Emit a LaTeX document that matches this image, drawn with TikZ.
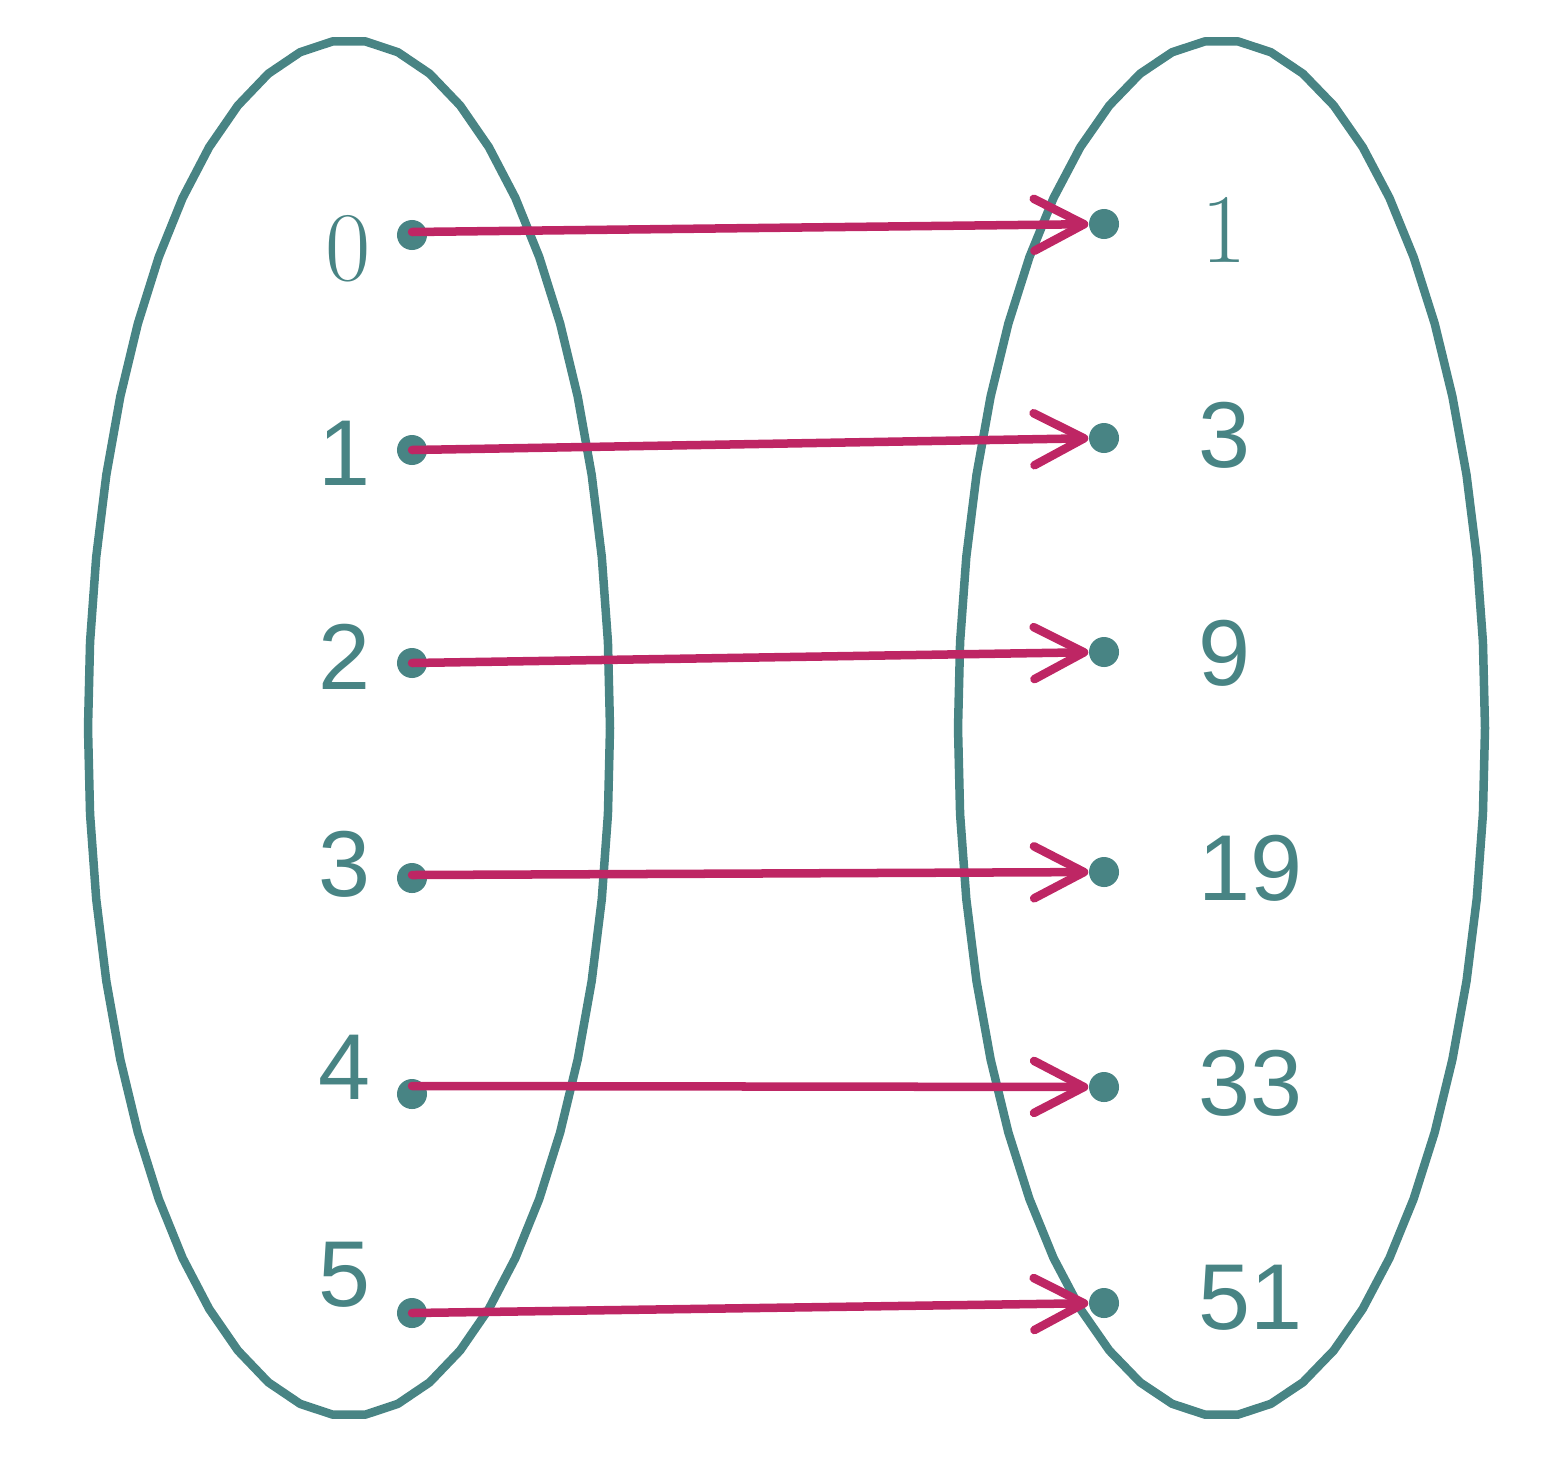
\documentclass[tikz,border=0pt]{standalone}
\usepackage{fontspec}
\setsansfont{Liberation Sans}
\usetikzlibrary{arrows.meta}
\definecolor{setteal}{RGB}{72,132,132}
\definecolor{mapred}{RGB}{190,38,100}
\tikzset{
    ring/.style={draw=setteal,line width=0.085cm,line join=round},
    dot/.style={circle,fill=setteal,inner sep=0pt,minimum size=0.3cm},
    num/.style={text=setteal,inner sep=0pt,font=\sffamily\fontsize{26.6}{30}\selectfont},
    numrm/.style={text=setteal,inner sep=0pt,font=\rmfamily\fontsize{28}{32}\selectfont},
    maps/.style={draw=mapred,line width=0.085cm,line cap=round,
        -{Straight Barb[length=0.5cm,width=0.52cm,round]}}
}
\begin{document}
\begin{tikzpicture}[x=0.01cm,y=-0.01cm]
        \useasboundingbox (0,0) rectangle (1552,1460);
        %% Sets
        \draw[ring] plot[samples=51,domain=0:360] ({349+261*cos(\x)},{728+688*sin(\x)}) -- cycle;
        \draw[ring] plot[samples=51,domain=0:360] ({1221.5+263.5*cos(\x)},{728+688*sin(\x)}) -- cycle;
        %% Domain
        \node[dot] (l0) at (412,235) {};
        \node[dot] (l1) at (412,450) {};
        \node[dot] (l2) at (412,663) {};
        \node[dot] (l3) at (412,878) {};
        \node[dot] (l4) at (412,1094) {};
        \node[dot] (l5) at (412,1313) {};
        \node[numrm,anchor=east] at (371,249) {0};
        \node[num,anchor=east] at (371,453) {1};
        \node[num,anchor=east] at (371,657) {2};
        \node[num,anchor=east] at (371,864) {3};
        \node[num,anchor=east] at (371,1067) {4};
        \node[num,anchor=east] at (371,1275) {5};
        %% Codomain
        \node[dot] (r0) at (1104,224) {};
        \node[dot] (r1) at (1104,438) {};
        \node[dot] (r2) at (1104,652) {};
        \node[dot] (r3) at (1104,872) {};
        \node[dot] (r4) at (1104,1087) {};
        \node[dot] (r5) at (1104,1303) {};
        \node[numrm,anchor=west] at (1201,230) {1};
        \node[num,anchor=west] at (1198,435) {3};
        \node[num,anchor=west] at (1198,653) {9};
        \node[num,anchor=west] at (1198,868) {19};
        \node[num,anchor=west] at (1198,1083) {33};
        \node[num,anchor=west] at (1198,1298) {51};
        %% Arrows
        \draw[maps] ([yshift=0.03cm]l0.center) -- (r0);
        \draw[maps] (l1.center) -- (r1);
        \draw[maps] (l2.center) -- (r2);
        \draw[maps] ([yshift=0.03cm]l3.center) -- (r3);
        \draw[maps] ([yshift=0.08cm]l4.center) -- (r4);
        \draw[maps] (l5.center) -- (r5);
    \end{tikzpicture}
\end{document}
